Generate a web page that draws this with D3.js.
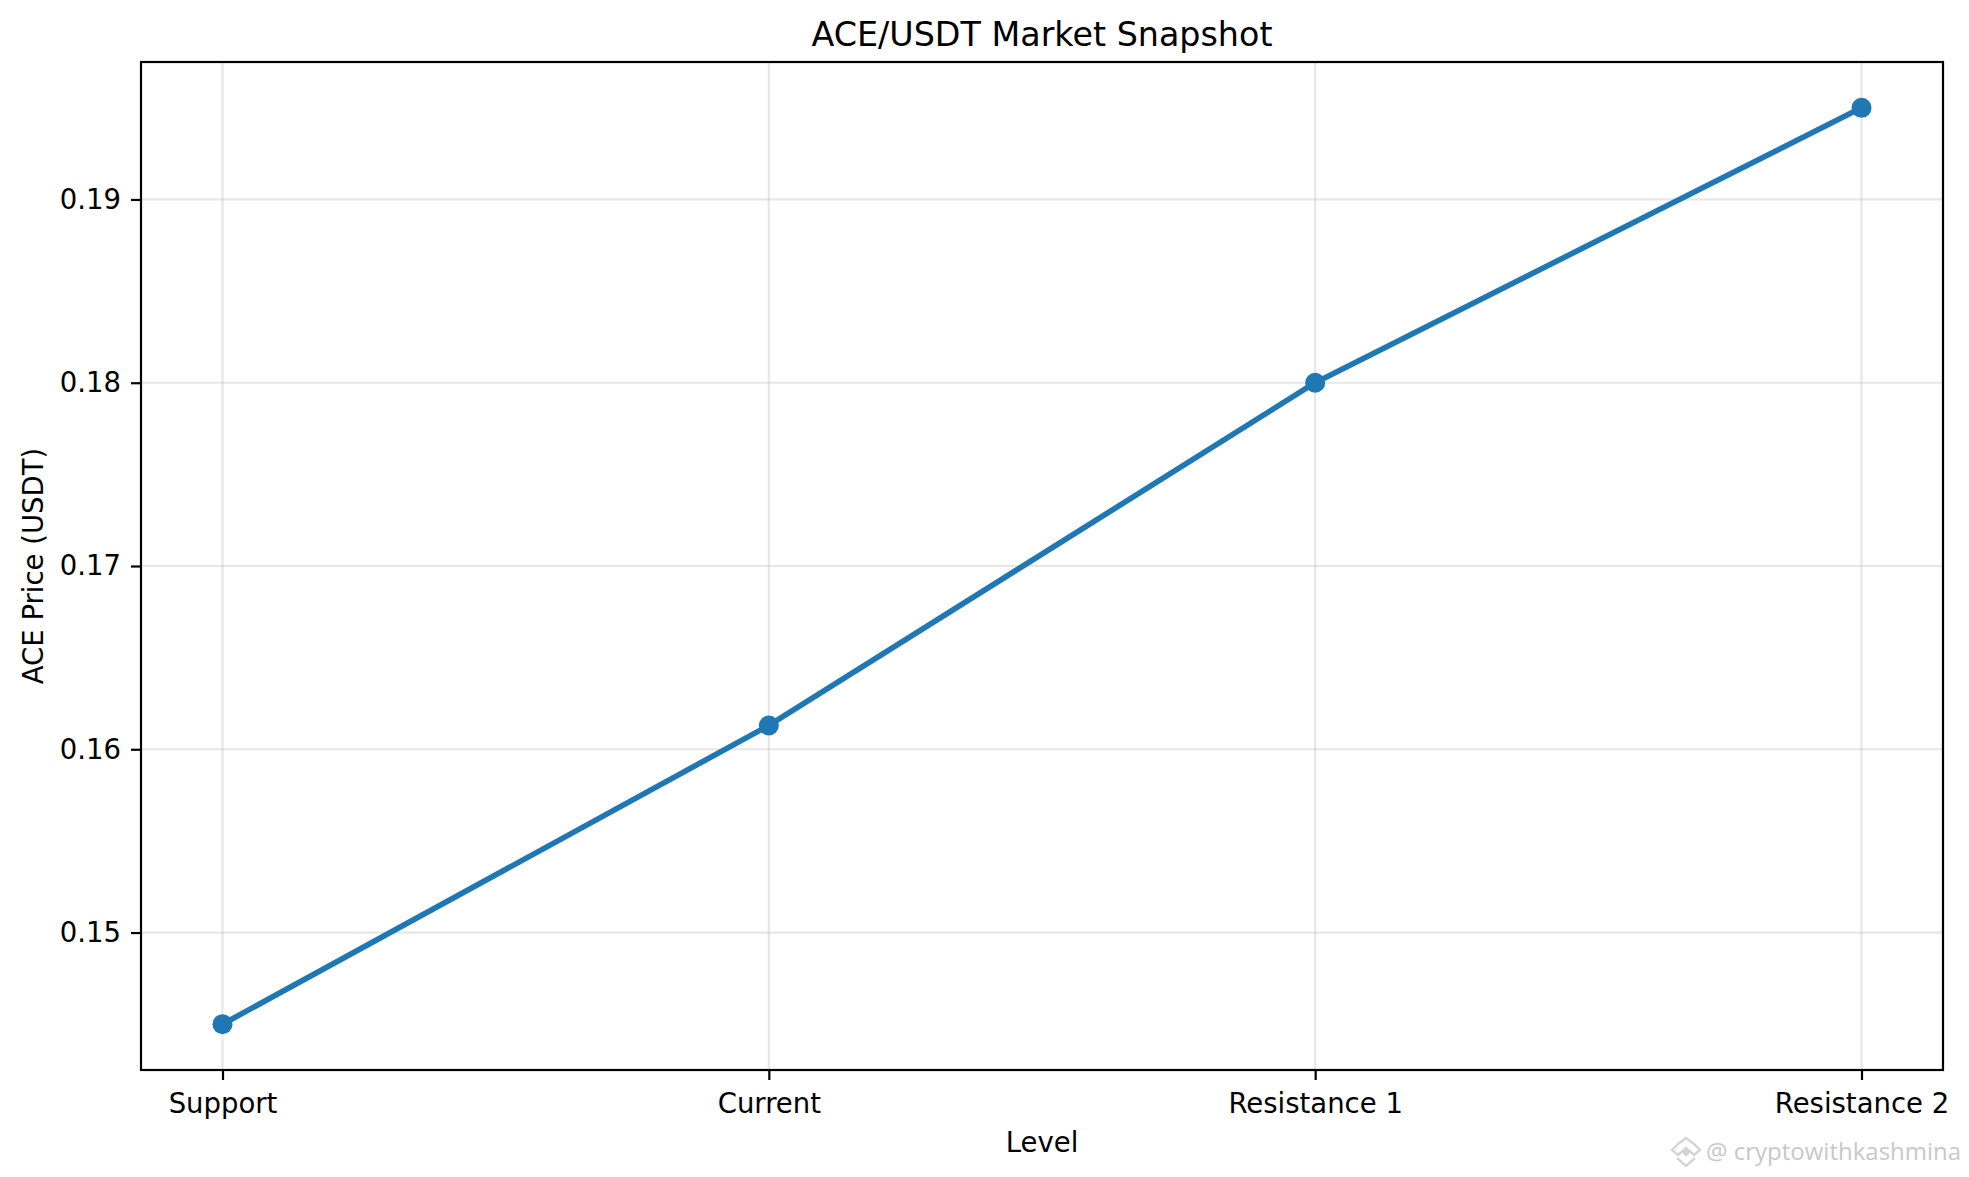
<!DOCTYPE html>
<html>
<head>
<meta charset="utf-8">
<script src="https://cdn.jsdelivr.net/npm/d3@7"></script>
<style>
  html, body { margin: 0; padding: 0; background: #fff; overflow: hidden; }
  text { font-family: "DejaVu Sans", sans-serif; fill: #000; }
</style>
</head>
<body>
<div id="chart"></div>
<script>
// datos
const levels = ["Support", "Current", "Resistance 1", "Resistance 2"];
const prices = [0.145, 0.1613, 0.18, 0.195];
const yTicks = [0.15, 0.16, 0.17, 0.18, 0.19];

const width = 1969;
const height = 1177;

const left = 141, right = 1943, top_ = 62, bottom = 1070;
const tickFont = 27.5;
const blue = "#1f77b4";

const SVG = d3.select("#chart").append("svg")
    .attr("width", width)
    .attr("height", height);

const x = d3.scalePoint().domain(levels).range([222.5, 1861.5]);
const y = d3.scaleLinear().domain([0.1425, 0.1975]).range([bottom, top_]);

// grid
SVG.append("g").selectAll("line").data(levels).join("line")
    .attr("x1", d => x(d)).attr("x2", d => x(d))
    .attr("y1", top_).attr("y2", bottom)
    .attr("stroke", "#b0b0b0").attr("stroke-opacity", 0.3).attr("stroke-width", 2.2);
SVG.append("g").selectAll("line").data(yTicks).join("line")
    .attr("x1", left).attr("x2", right)
    .attr("y1", d => y(d)).attr("y2", d => y(d))
    .attr("stroke", "#b0b0b0").attr("stroke-opacity", 0.3).attr("stroke-width", 2.2);

// ejes
const xAxis = SVG.append("g")
    .attr("transform", `translate(0,${bottom})`)
    .call(d3.axisBottom(x).tickSize(10).tickPadding(13));
const yAxis = SVG.append("g")
    .attr("transform", `translate(${left},0)`)
    .call(d3.axisLeft(y).tickValues(yTicks).tickFormat(d3.format(".2f")).tickSize(10).tickPadding(10));

[xAxis, yAxis].forEach(g => {
  g.select(".domain").remove();
  g.selectAll("line").attr("stroke", "#000").attr("stroke-width", 2.2);
  g.selectAll("text").style("font-size", tickFont + "px").attr("fill", "#000")
    .style("font-family", '"DejaVu Sans", sans-serif');
});

// linea y puntos
const line = d3.line()
    .x((d, i) => x(levels[i]))
    .y(d => y(d));

SVG.append("path")
    .datum(prices)
    .attr("d", line)
    .attr("fill", "none")
    .attr("stroke", blue)
    .attr("stroke-width", 5.6)
    .attr("stroke-linejoin", "round");

SVG.append("g").selectAll("circle").data(prices).join("circle")
    .attr("cx", (d, i) => x(levels[i]))
    .attr("cy", d => y(d))
    .attr("r", 10)
    .attr("fill", blue);

// marco
SVG.append("rect")
    .attr("x", left).attr("y", top_)
    .attr("width", right - left).attr("height", bottom - top_)
    .attr("fill", "none").attr("stroke", "#000").attr("stroke-width", 2.2);

// titulos
SVG.append("text")
    .attr("x", (left + right) / 2).attr("y", 46)
    .attr("text-anchor", "middle")
    .style("font-size", "33.33px")
    .text("ACE/USDT Market Snapshot");

SVG.append("text")
    .attr("x", (left + right) / 2).attr("y", 1152)
    .attr("text-anchor", "middle")
    .style("font-size", tickFont + "px")
    .text("Level");

SVG.append("text")
    .attr("transform", `translate(43,${(top_ + bottom) / 2}) rotate(-90)`)
    .attr("text-anchor", "middle")
    .style("font-size", tickFont + "px")
    .text("ACE Price (USDT)");

// marca de agua
const wm = SVG.append("g").attr("transform", "translate(1686,1152)");
const logo = wm.append("g")
    .attr("fill", "none").attr("stroke", "#d4d4d4").attr("stroke-width", 2.4);
logo.append("path").attr("d", "M-14,-2 L-8,-8 L0,-14 L8,-8 L14,-2 L8,3 L0,-4 L-8,3 Z");
logo.append("path").attr("d", "M-9,6 L0,14 L9,6");
logo.append("path").attr("d", "M-3,0 L0,-3 L3,0 L0,3 Z").attr("fill", "#d4d4d4");

SVG.append("text")
    .attr("x", 1706).attr("y", 1160)
    .style("fill", "#c8c8c8")
    .style("font-family", '"Open Sans", sans-serif')
    .style("font-size", "24px")
    .text("@ cryptowithkashmina");
</script>
</body>
</html>
